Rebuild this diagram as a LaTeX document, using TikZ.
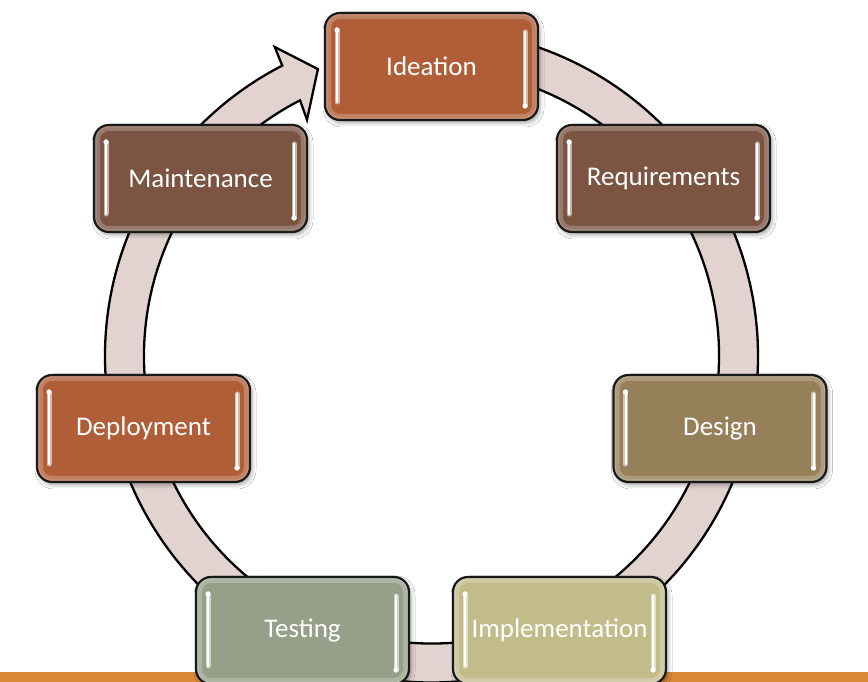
\documentclass[tikz,border=0pt]{standalone}
\usepackage{fontspec}
\setmainfont{Carlito}
\usetikzlibrary{calc,shadows.blur}
\definecolor{ringfill}{HTML}{E3D3D0}
\definecolor{cIdea}{HTML}{B05E38}
\definecolor{cReq}{HTML}{7B5542}
\definecolor{cDes}{HTML}{96805A}
\definecolor{cImp}{HTML}{C2BC8A}
\definecolor{cTest}{HTML}{969F88}
\definecolor{barorange}{HTML}{D98938}
\tikzset{
  stage/.style={draw=black!90, line width=2.2pt, rounded corners=15pt,
    minimum width=213pt, minimum height=107pt, inner sep=0pt,
    fill=#1, text=white, font=\fontsize{27}{31}\selectfont,
    blur shadow={shadow xshift=2pt, shadow yshift=-3pt, shadow blur radius=4pt, shadow opacity=35},
    path picture={
      \draw[white, opacity=.22, line width=12pt, rounded corners=15pt]
        (path picture bounding box.south west) rectangle (path picture bounding box.north east);
      \draw[white, opacity=.15, line width=5pt, rounded corners=15pt]
        (path picture bounding box.south west) rectangle (path picture bounding box.north east);
      \draw[#1!30!white, line width=5pt, line cap=round, opacity=.8]
        ($(path picture bounding box.north west)+(12,-17)$) -- ($(path picture bounding box.south west)+(12,18)$);
      \draw[white, line width=2pt, line cap=round]
        ($(path picture bounding box.north west)+(12,-17)$) -- ($(path picture bounding box.south west)+(12,18)$);
      \fill[white] ($(path picture bounding box.north west)+(12,-17)$) circle (2.6);
      \draw[#1!30!white, line width=5pt, line cap=round, opacity=.8]
        ($(path picture bounding box.north east)+(-13,-19)$) -- ($(path picture bounding box.south east)+(-13,14)$);
      \draw[white, line width=2pt, line cap=round]
        ($(path picture bounding box.north east)+(-13,-19)$) -- ($(path picture bounding box.south east)+(-13,14)$);
      \fill[white] ($(path picture bounding box.south east)+(-13,14)$) circle (2.6);
    }},
  ringstyle/.style={fill=ringfill, draw=black, line width=2.3pt, line join=miter}
}
\begin{document}
\begin{tikzpicture}[x=1pt,y=1pt]
\useasboundingbox (0,0) rectangle (868,682);
\fill[white] (0,0) rectangle (868,682);
% bottom bar
\fill[barorange] (0,0) rectangle (868,10);
% circular arrow
\begin{scope}[shift={(431.5,326)}]
\draw[ringstyle] (95:326.5) arc[start angle=95, end angle=-242.8, radius=326.5]
  -- (-243.1:346.5) -- (-248.4:308.6) -- (-242.2:267) -- (-242.8:287.5)
  arc[start angle=-242.8, end angle=95, radius=287.5] -- cycle;
\end{scope}
% stages
\node[stage=cIdea] (ideation) at (431.5,615.5) {Ideation};
\node[stage=cReq] (requirements) at (663.5,503.5) {Requirements};
\node[stage=cDes] (design) at (720,253.5) {Design};
\node[stage=cImp] (implementation) at (559.5,51.5) {Implementation};
\node[stage=cTest] (testing) at (302.5,51.5) {Testing};
\node[stage=cIdea] (deployment) at (143.5,253.5) {Deployment};
\node[stage=cReq] (maintenance) at (200.5,503.5) {Maintenance};
\end{tikzpicture}
\end{document}
